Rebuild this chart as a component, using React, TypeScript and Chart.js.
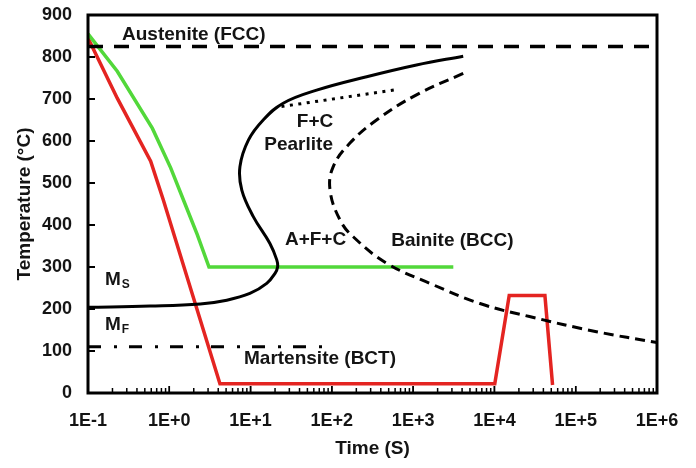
import { useEffect, useRef } from 'react';
import { Chart, registerables } from 'chart.js';

Chart.register(...registerables);

// ---- Axis ticks ----
const xTickValues = [0.1, 1, 10, 100, 1000, 10000, 100000, 1000000];
const xTickLabels = ['1E-1', '1E+0', '1E+1', '1E+2', '1E+3', '1E+4', '1E+5', '1E+6'];
const yTickValues = [0, 100, 200, 300, 400, 500, 600, 700, 800, 900];

// ---- Series (time in s, temperature in °C) ----
const austeniteTime = [0.1, 1000000];
const austeniteTemp = [825, 825];

const msLineTime = [0.1, 82];
const msLineTemp = [110, 110];

const pearliteStartTime = [0.1, 0.58, 2.4, 5.1, 9.8, 15.8, 20, 21.5, 21, 17.3, 10.8, 7.8, 7.4, 9.4, 14.3, 25.2, 65, 268, 1100, 4130];
const pearliteStartTemp = [204, 207, 212, 221, 237, 261, 285, 300, 317, 356, 420, 483, 539, 602, 650, 690, 721, 753, 781, 802];

const pearliteFinishTime = [24, 656];
const pearliteFinishTemp = [682, 723];

const bainiteTime = [4130, 1100, 355, 167, 104, 95, 126, 183, 472, 1610, 6640, 27000, 180000, 1000000];
const bainiteTemp = [761, 710, 650, 595, 539, 483, 412, 372, 309, 261, 213, 182, 146, 120];

const greenTime = [0.1, 0.229, 0.62, 1.04, 1.52, 2.21, 3.08, 3120];
const greenTemp = [855, 766, 630, 536, 456, 377, 300, 300];

const redTime = [0.1, 0.229, 0.59, 0.843, 4.2, 10100, 15200, 41800, 51900];
const redTemp = [845, 702, 552, 460, 22, 22, 232, 232, 19];

// ---- Text labels (data coordinates) ----
const regionLabels = [
  { text: 'Austenite (FCC)', t: 2.0, T: 853 },
  { text: 'F+C', t: 62, T: 646 },
  { text: 'Pearlite', t: 39, T: 591 },
  { text: 'A+F+C', t: 63, T: 366 },
  { text: 'Bainite (BCC)', t: 3040, T: 362 },
  { text: 'Martensite (BCT)', t: 71.5, T: 81 },
];
const subLabels = [
  { main: 'M', sub: 'S', t: 0.162, T: 269 },
  { main: 'M', sub: 'F', t: 0.162, T: 163 },
];

const FONT = '"Liberation Sans", Arial, sans-serif';
const TEXT = '#141414';

const pts = (xs: number[], ys: number[]) => xs.map((x, i) => ({ x, y: ys[i] }));

const decoPlugin = {
  id: 'deco',
  afterDatasetsDraw(chart: any) {
    const { ctx, chartArea: a, scales } = chart;
    const xs = scales.x;
    const ys = scales.y;
    ctx.save();
    ctx.strokeStyle = '#000';
    // minor / major ticks on x (inward)
    ctx.lineWidth = 1.5;
    for (let d = 0; d < xTickValues.length - 1; d++) {
      const base = xTickValues[d];
      for (let m = 1; m <= 10; m++) {
        const v = base * m;
        const px = xs.getPixelForValue(v);
        const len = m === 1 || m === 10 ? 7 : 5;
        ctx.beginPath();
        ctx.moveTo(px, a.bottom);
        ctx.lineTo(px, a.bottom - len);
        ctx.stroke();
      }
    }
    // y ticks (inward)
    ctx.lineWidth = 2;
    yTickValues.forEach((v) => {
      const py = ys.getPixelForValue(v);
      ctx.beginPath();
      ctx.moveTo(a.left, py);
      ctx.lineTo(a.left + 7, py);
      ctx.stroke();
    });
    // frame
    ctx.lineWidth = 3;
    ctx.strokeRect(a.left, a.top, a.right - a.left, a.bottom - a.top);

    // labels
    ctx.fillStyle = TEXT;
    ctx.font = `bold 19px ${FONT}`;
    ctx.textAlign = 'center';
    ctx.textBaseline = 'middle';
    regionLabels.forEach((l) => {
      ctx.fillText(l.text, xs.getPixelForValue(l.t), ys.getPixelForValue(l.T));
    });
    subLabels.forEach((l) => {
      const px = xs.getPixelForValue(l.t);
      const py = ys.getPixelForValue(l.T);
      ctx.textAlign = 'left';
      ctx.font = `bold 19px ${FONT}`;
      ctx.fillText(l.main, px, py);
      const w = ctx.measureText(l.main).width;
      ctx.font = `bold 12px ${FONT}`;
      ctx.fillText(l.sub, px + w + 1, py + 5);
    });
    ctx.restore();
  },
};

export default function App() {
  const ref = useRef<HTMLCanvasElement | null>(null);

  useEffect(() => {
    if (!ref.current) return;
    const base = { pointRadius: 0, pointHoverRadius: 0, fill: false, borderCapStyle: 'butt' as const };
    const chart = new Chart(ref.current, {
      type: 'scatter',
      data: {
        datasets: [
          { ...base, label: 'Austenite', data: pts(austeniteTime, austeniteTemp), showLine: true, borderColor: '#000', borderWidth: 3.5, borderDash: [15, 11], tension: 0 },
          { ...base, label: 'Ms', data: pts(msLineTime, msLineTemp), showLine: true, borderColor: '#000', borderWidth: 3, borderDash: [13, 13, 3, 12], tension: 0 },
          { ...base, label: 'Pearlite start', data: pts(pearliteStartTime, pearliteStartTemp), showLine: true, borderColor: '#000', borderWidth: 3, tension: 0.4 },
          { ...base, label: 'Pearlite finish', data: pts(pearliteFinishTime, pearliteFinishTemp), showLine: true, borderColor: '#000', borderWidth: 3, borderDash: [3, 5.5], tension: 0 },
          { ...base, label: 'Bainite', data: pts(bainiteTime, bainiteTemp), showLine: true, borderColor: '#000', borderWidth: 3, borderDash: [10, 6], tension: 0.4 },
          { ...base, label: 'Cooling green', data: pts(greenTime, greenTemp), showLine: true, borderColor: '#52d83a', borderWidth: 3.5, tension: 0 },
          { ...base, label: 'Cooling red', data: pts(redTime, redTemp), showLine: true, borderColor: '#e42421', borderWidth: 3.5, tension: 0 },
        ],
      },
      options: {
        animation: false,
        responsive: false,
        devicePixelRatio: 1,
        layout: { padding: { top: 15, right: 39, left: 0, bottom: 0 } },
        plugins: { legend: { display: false }, tooltip: { enabled: false } },
        scales: {
          x: {
            type: 'logarithmic',
            min: 0.1,
            max: 1000000,
            afterBuildTicks: (s: any) => {
              s.ticks = xTickValues.map((v) => ({ value: v }));
            },
            afterFit: (s: any) => {
              s.height = 75;
              s.paddingLeft = 0;
              s.paddingRight = 0;
            },
            ticks: {
              callback: (v: any) => xTickLabels[xTickValues.indexOf(Number(v))] ?? '',
              font: { family: FONT, size: 18, weight: 'bold' },
              color: TEXT,
              padding: 17,
              maxRotation: 0,
              autoSkip: false,
            },
            grid: { display: false, drawTicks: false },
            border: { display: false },
            title: {
              display: true,
              text: 'Time (S)',
              font: { family: FONT, size: 19, weight: 'bold' },
              color: TEXT,
              padding: { top: 0, bottom: 8 },
            },
          },
          y: {
            type: 'linear',
            min: 0,
            max: 900,
            afterBuildTicks: (s: any) => {
              s.ticks = yTickValues.map((v) => ({ value: v }));
            },
            afterFit: (s: any) => {
              s.width = 88;
              s.paddingTop = 0;
              s.paddingBottom = 0;
            },
            ticks: {
              font: { family: FONT, size: 18, weight: 'bold' },
              color: TEXT,
              padding: 16,
            },
            grid: { display: false, drawTicks: false },
            border: { display: false },
            title: {
              display: true,
              text: 'Temperature (°C)',
              font: { family: FONT, size: 19, weight: 'bold' },
              color: TEXT,
              padding: { top: 13, bottom: 0 },
            },
          },
        },
      } as any,
      plugins: [decoPlugin],
    });
    return () => chart.destroy();
  }, []);

  return (
    <div style={{ position: 'absolute', left: 0, top: 0, width: 696, height: 468, background: '#fff' }}>
      <canvas ref={ref} width={696} height={468} />
    </div>
  );
}
